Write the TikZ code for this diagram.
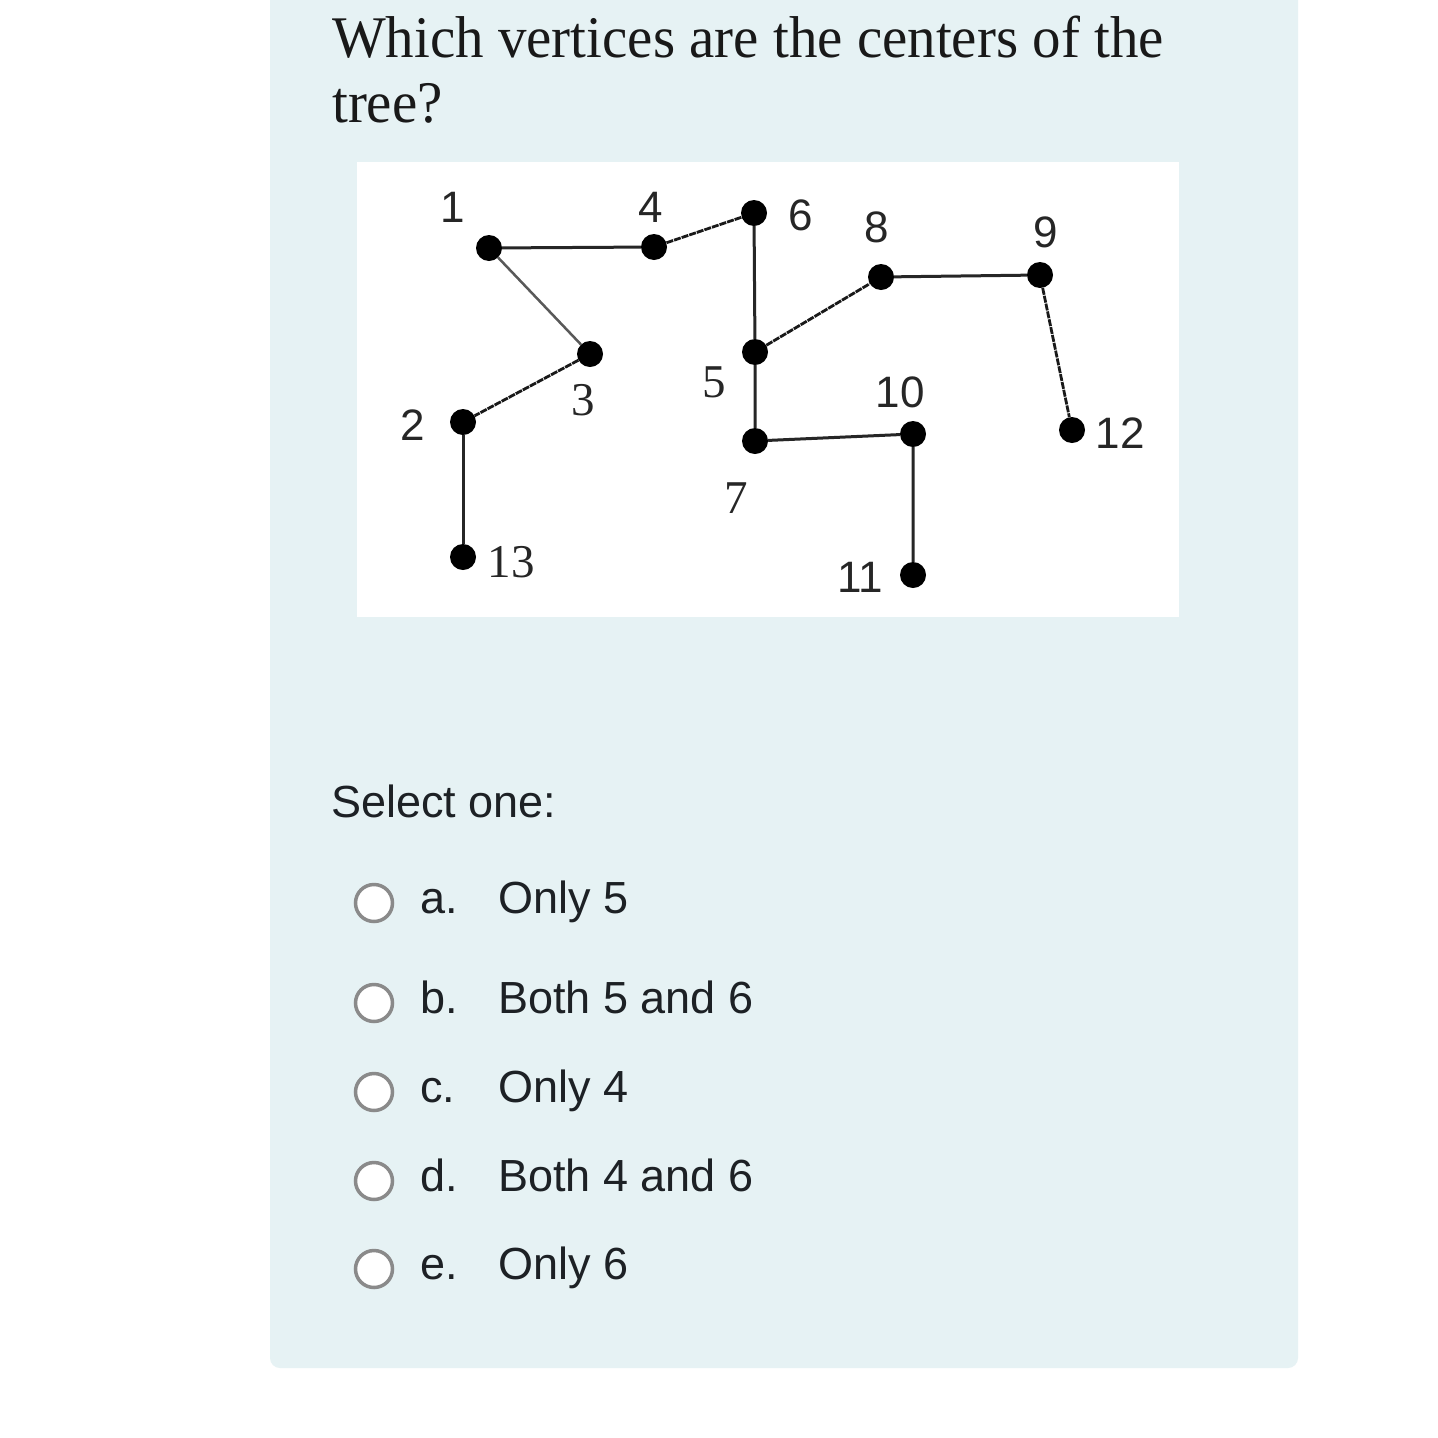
\documentclass[tikz,border=0pt]{standalone}
\usepackage{fontspec}
\setmainfont{Liberation Serif}
\setsansfont{Liberation Sans}
\usepackage{xcolor}
\usetikzlibrary{arrows.meta}

\definecolor{panelbg}{HTML}{E6F2F4}
\definecolor{inkdark}{HTML}{1D2125}
\definecolor{radiogray}{HTML}{8A8A8A}

\tikzset{
  vtx/.style={circle,fill=black,inner sep=0pt,minimum size=26pt},
  edge/.style={line width=3pt,black!85},
  faint/.style={line width=2.5pt,black!65},
  rough/.style={line width=2.8pt,black!90,dash pattern=on 7pt off 1pt},
  snum/.style={font=\sffamily\fontsize{44}{44}\selectfont,inner sep=0pt,black!85},
  rnum/.style={font=\rmfamily\fontsize{47}{47}\selectfont,inner sep=0pt,black!85},
  opt/.style={font=\sffamily\fontsize{45}{45}\selectfont,inner sep=0pt,anchor=base west,text=inkdark},
  radio/.style={circle,draw=radiogray,line width=3.5pt,fill=white,minimum size=37pt,inner sep=0pt}
}

\begin{document}
\begin{tikzpicture}[x=1pt,y=-1pt]
                \useasboundingbox (0,0) rectangle (1438,1438);
                \fill[white] (0,0) rectangle (1438,1438);
                \fill[panelbg,rounded corners=10pt] (270,-20) rectangle (1298,1368);
                % question
                \node[font=\rmfamily\fontsize{59}{59}\selectfont,inner sep=0pt,anchor=base west,text=black!90] (q1) at (332,57) {\scalebox{0.965}[1]{Which vertices are the centers of the}};
                \node[font=\rmfamily\fontsize{59}{59}\selectfont,inner sep=0pt,anchor=base west,text=black!90] (q2) at (332,122) {\scalebox{0.965}[1]{tree?}};
                % tree picture
                \fill[white] (357,162) rectangle (1179,617);
                \foreach \n/\x/\y in {1/489/248, 2/463/422, 3/590/354, 4/654/247, 5/755/352, 6/754/213, 7/755/441,
                                      8/881/277, 9/1040/275, 10/913/434, 11/913/575, 12/1072/430, 13/463/557}
                    \node[vtx] (v\n) at (\x,\y) {};
                \draw[edge] (v1) -- (v4);
                \draw[faint] (v1) -- (v3);
                \draw[rough] (v3) -- (v2);
                \draw[edge] (v2) -- (v13);
                \draw[rough] (v4) -- (v6);
                \draw[edge] (v6) -- (v5) -- (v7);
                \draw[rough] (v5) -- (v8);
                \draw[edge] (v8) -- (v9);
                \draw[rough] (v9) -- (v12);
                \draw[edge] (v7) -- (v10) -- (v11);
                % vertex numbers
                \node[snum] (l1) at (453,207) {1};
                \node[snum] (l2) at (413,425) {2};
                \node[rnum] (l3) at (583,400) {3};
                \node[snum] (l4) at (651,207) {4};
                \node[rnum] (l5) at (714,382) {5};
                \node[snum] (l6) at (801,215) {6};
                \node[rnum] (l7) at (736,498) {7};
                \node[snum] (l8) at (877,227) {8};
                \node[snum] (l9) at (1046,232) {9};
                \node[snum] (l10) at (900,392) {10};
                \node[snum] (l11) at (860,577) {11};
                \node[snum] (l12) at (1120,433) {12};
                \node[rnum] (l13) at (511,562) {13};
                % answers
                \node[opt] (sel) at (331,817) {Select one:};
                \foreach \k/\y/\t in {a/913/Only 5, b/1013/Both 5 and 6, c/1102/Only 4, d/1191/Both 4 and 6, e/1279/Only 6} {
                    \node[radio] (r\k) at (374,\y-10) {};
                    \node[opt] (k\k) at (420,\y) {\k.};
                    \node[opt] (t\k) at (498,\y) {\t};
                }
            \end{tikzpicture}
\end{document}
